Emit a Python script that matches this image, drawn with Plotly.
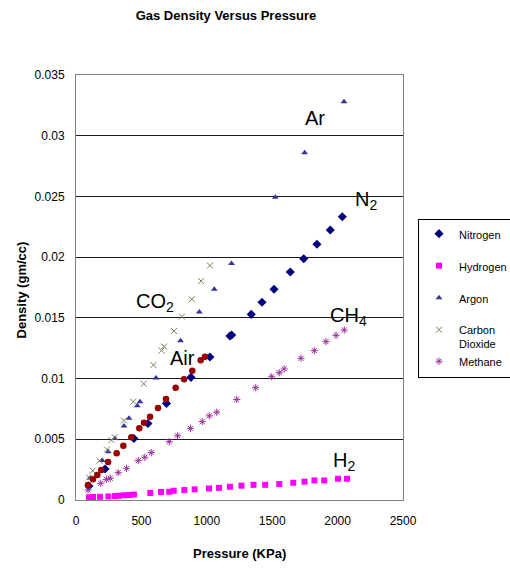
import plotly.graph_objects as go

# ---- data (pressure in KPa, density in gm/cc) ----
n2_p = [99, 222, 443, 550, 692, 879, 1024, 1177, 1190, 1340, 1422, 1514, 1638, 1741, 1842, 1944, 2036]
n2_d = [0.00115, 0.00255, 0.00506, 0.0063, 0.00795, 0.0101, 0.01178, 0.0135, 0.01359, 0.01529,
        0.01628, 0.01735, 0.01878, 0.01987, 0.02106, 0.02223, 0.02333]

h2_p = [99, 130, 183, 248, 298, 329, 367, 405, 443, 568, 650, 713, 747, 828, 907, 1017, 1093,
        1177, 1265, 1357, 1446, 1554, 1661, 1747, 1823, 1898, 2003, 2072]
h2_d = [0.00022, 0.00025, 0.00026, 0.00029, 0.00033, 0.00035, 0.00039, 0.00041, 0.00045, 0.00058,
        0.00066, 0.00068, 0.00076, 0.00082, 0.00088, 0.00095, 0.001, 0.00109, 0.00118, 0.00125,
        0.00125, 0.00132, 0.00142, 0.00151, 0.00161, 0.00161, 0.00175, 0.00175]

ar_p = [107, 201, 247, 298, 367, 405, 469, 489, 612, 799, 943, 1057, 1189, 1524, 1748, 2049]
ar_d = [0.00181, 0.00325, 0.00398, 0.00506, 0.00609, 0.00673, 0.00777, 0.0081, 0.01005, 0.01312,
        0.01548, 0.01735, 0.01948, 0.02493, 0.0286, 0.0328]

co2_p = [99, 128, 180, 237, 270, 296, 367, 438, 518, 592, 654, 673, 749, 810, 885, 956, 1024]
co2_d = [0.00185, 0.00241, 0.00323, 0.00416, 0.00494, 0.00516, 0.00655, 0.0081, 0.00958, 0.01112,
         0.01231, 0.01264, 0.01392, 0.0151, 0.01653, 0.01803, 0.01931]

ch4_p = [92, 189, 232, 262, 323, 386, 476, 526, 575, 713, 777, 875, 965, 1019, 1076, 1229, 1374,
         1496, 1554, 1592, 1720, 1822, 1911, 1988, 2051]
ch4_d = [0.00082, 0.00138, 0.0017, 0.00179, 0.00225, 0.00261, 0.00324, 0.00352, 0.0039, 0.0048,
         0.00529, 0.0059, 0.00645, 0.00693, 0.00723, 0.00828, 0.00925, 0.01015, 0.01048, 0.01079,
         0.01167, 0.0123, 0.01304, 0.01356, 0.014]

air_p = [92, 130, 163, 193, 245, 311, 362, 423, 484, 520, 566, 627, 688, 762, 826, 889, 953, 986]
air_d = [0.00124, 0.0017, 0.00206, 0.00247, 0.00313, 0.00385, 0.00447, 0.00517, 0.0059, 0.00636,
         0.00686, 0.00758, 0.00832, 0.00925, 0.00994, 0.01065, 0.0115, 0.0118]

y_ticks = [0, 0.005, 0.01, 0.015, 0.02, 0.025, 0.03, 0.035]
y_tick_text = ["0", "0.005", "0.01", "0.015", "0.02", "0.025", "0.03", "0.035"]
x_ticks = [0, 500, 1000, 1500, 2000, 2500]

labels = ["Ar", "N<sub>2</sub>", "CO<sub>2</sub>", "Air", "CH<sub>4</sub>", "H<sub>2</sub>"]
label_p = [1825, 2217, 604, 818, 2083, 2049]
label_d = [0.03146, 0.0247, 0.0163, 0.01173, 0.01515, 0.00317]

FONT = "Arial, Liberation Sans, sans-serif"
NARROW = "Liberation Sans Narrow, Arial Narrow, Arial, sans-serif"

fig = go.Figure()
fig.add_trace(go.Scatter(x=n2_p, y=n2_d, mode="markers", name="Nitrogen", legendgroup="a",
                         marker=dict(symbol="diamond", size=7, color="#000080")))
fig.add_trace(go.Scatter(x=h2_p, y=h2_d, mode="markers", name="Hydrogen", legendgroup="b",
                         marker=dict(symbol="square", size=6, color="#FF00FF")))
fig.add_trace(go.Scatter(x=ar_p, y=ar_d, mode="markers", name="Argon", legendgroup="c",
                         marker=dict(symbol="triangle-up", size=6, color="#333399")))
fig.add_trace(go.Scatter(x=co2_p, y=co2_d, mode="markers", name="Carbon<br>Dioxide", legendgroup="d",
                         marker=dict(symbol="x-thin-open", size=6, color="#7f7f5f",
                                     line=dict(width=1, color="#7f7f5f"))))
fig.add_trace(go.Scatter(x=ch4_p, y=ch4_d, mode="markers", name="Methane", legendgroup="d",
                         marker=dict(symbol="asterisk-open", size=6, color="#993399",
                                     line=dict(width=1, color="#993399"))))
fig.add_trace(go.Scatter(x=air_p, y=air_d, mode="markers", name="Air", showlegend=False,
                         marker=dict(symbol="circle", size=6.5, color="#990000")))

for t, xp, yd in zip(labels, label_p, label_d):
    fig.add_annotation(x=xp, y=yd, xref="x", yref="y", text=t, showarrow=False,
                       font=dict(family=NARROW, size=20, color="black"))

fig.add_annotation(xref="paper", yref="paper", x=-0.196, y=0.494, text="<b>Density (gm/cc)</b>",
                   textangle=-90, showarrow=False, font=dict(family=FONT, size=13, color="black"))
fig.add_annotation(xref="paper", yref="paper", x=0.5, y=-0.148, text="<b>Pressure (KPa)</b>",
                   showarrow=False, font=dict(family=FONT, size=13, color="black"))

fig.update_layout(
    width=510, height=577,
    margin=dict(l=76, r=107, t=75, b=77, autoexpand=False),
    paper_bgcolor="white", plot_bgcolor="white",
    font=dict(family=FONT, size=12, color="black"),
    title=dict(text="<b>Gas Density Versus Pressure</b>", x=226 / 510, xanchor="center",
               y=1 - 15.5 / 577, yanchor="middle", font=dict(family=FONT, size=13, color="black")),
    legend=dict(x=(418 - 76) / 327, xanchor="left", y=(500 - 219) / 425, yanchor="top",
                bordercolor="black", borderwidth=1, bgcolor="white",
                font=dict(family=FONT, size=11, color="black"),
                tracegroupgap=13, itemwidth=30, valign="top", traceorder="grouped"),
)
fig.update_xaxes(range=[0, 2500], tickvals=x_ticks, showgrid=False, zeroline=False,
                 showline=True, mirror=True, linecolor="#808080", linewidth=1,
                 ticks="", ticklabelstandoff=10, tickfont=dict(size=12))
fig.update_yaxes(range=[0, 0.035], tickvals=y_ticks, ticktext=y_tick_text, showgrid=True,
                 gridcolor="#1a1a1a", gridwidth=1, zeroline=False,
                 showline=True, mirror=True, linecolor="#808080", linewidth=1,
                 ticks="", ticklabelstandoff=8, tickfont=dict(size=12))

fig.write_html("out.html")
